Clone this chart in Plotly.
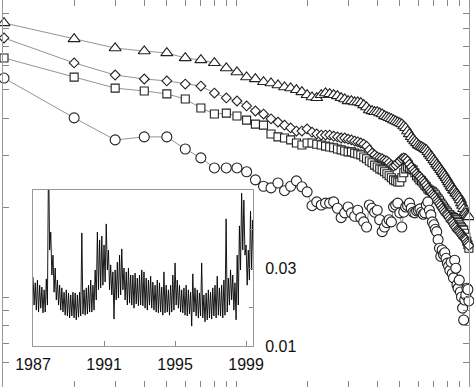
import plotly.graph_objects as go

# ---- main panel data (lag 1..100, log-log) ----
lags = list(range(1, 101))

tri_vals = [0.837,0.739,0.689,0.673,0.663,0.638,0.628,0.614,0.590,0.572,
0.550,0.542,0.530,0.525,0.517,0.509,0.505,0.498,0.490,0.479,
0.471,0.468,0.479,0.486,0.483,0.479,0.475,0.468,0.464,0.457,
0.457,0.453,0.453,0.450,0.443,0.436,0.426,0.423,0.420,0.420,
0.416,0.413,0.407,0.404,0.401,0.398,0.394,0.391,0.388,0.385,
0.382,0.376,0.371,0.362,0.354,0.346,0.340,0.335,0.330,0.325,
0.322,0.320,0.318,0.315,0.313,0.308,0.303,0.298,0.294,0.289,
0.285,0.280,0.276,0.272,0.268,0.264,0.260,0.256,0.252,0.248,
0.244,0.240,0.236,0.233,0.229,0.228,0.224,0.222,0.219,0.216,
0.212,0.207,0.203,0.198,0.193,0.192,0.189,0.187,0.186,0.185]

dia_vals = [0.745,0.614,0.559,0.542,0.534,0.521,0.513,0.486,0.468,0.457,
0.440,0.423,0.413,0.398,0.388,0.379,0.371,0.362,0.362,0.368,
0.359,0.354,0.351,0.351,0.351,0.348,0.346,0.343,0.343,0.340,
0.338,0.335,0.333,0.330,0.327,0.322,0.313,0.305,0.301,0.296,
0.294,0.292,0.289,0.287,0.283,0.278,0.276,0.278,0.283,0.287,
0.292,0.294,0.292,0.287,0.280,0.274,0.268,0.264,0.260,0.256,
0.254,0.250,0.246,0.242,0.238,0.233,0.229,0.226,0.222,0.219,
0.216,0.212,0.209,0.206,0.203,0.199,0.196,0.193,0.190,0.189,
0.186,0.183,0.180,0.179,0.176,0.173,0.171,0.168,0.167,0.166,
0.164,0.162,0.160,0.158,0.157,0.156,0.153,0.151,0.149,0.148]

sq_vals = [0.638,0.550,0.505,0.494,0.483,0.464,0.433,0.413,0.416,0.407,
0.394,0.382,0.379,0.354,0.346,0.343,0.338,0.330,0.325,0.330,
0.330,0.327,0.325,0.322,0.320,0.318,0.315,0.313,0.310,0.308,
0.308,0.305,0.303,0.301,0.296,0.292,0.287,0.283,0.278,0.274,
0.270,0.268,0.264,0.260,0.256,0.252,0.248,0.246,0.244,0.244,
0.252,0.262,0.270,0.274,0.272,0.270,0.268,0.262,0.256,0.252,
0.248,0.246,0.242,0.238,0.235,0.231,0.229,0.228,0.226,0.224,
0.221,0.217,0.214,0.211,0.207,0.204,0.201,0.198,0.195,0.193,
0.190,0.189,0.187,0.186,0.185,0.183,0.182,0.180,0.178,0.175,
0.173,0.171,0.169,0.168,0.164,0.159,0.154,0.150,0.146,0.144]

circ_vals = [0.546,0.401,0.338,0.346,0.346,0.315,0.294,0.272,0.272,0.272,
0.264,0.248,0.236,0.233,0.242,0.228,0.236,0.246,0.235,0.226,
0.203,0.209,0.204,0.207,0.207,0.209,0.199,0.185,0.192,0.201,
0.192,0.187,0.196,0.185,0.179,0.172,0.204,0.199,0.193,0.196,
0.182,0.166,0.172,0.178,0.182,0.179,0.201,0.204,0.207,0.192,
0.172,0.193,0.201,0.203,0.207,0.199,0.193,0.192,0.195,0.196,
0.198,0.193,0.190,0.192,0.204,0.209,0.196,0.189,0.179,0.175,
0.169,0.166,0.156,0.146,0.137,0.144,0.139,0.141,0.135,0.130,
0.127,0.123,0.131,0.120,0.116,0.133,0.125,0.110,0.107,0.114,
0.104,0.100,0.0918,0.0837,0.0977,0.1016,0.107,0.106,0.0970,0.0977]

# ---- inset data: volatility 1987-1999, high/low per 1/8-year bin ----
bin_start = 1987.0
bin_width = 0.125
vol_hi = [0.0277,0.0262,0.0269,0.0256,0.0251,0.0244,0.0272,0.0600,0.0392,0.0333,
0.0300,0.0269,0.0256,0.0249,0.0238,0.0244,0.0236,0.0231,0.0238,0.0236,
0.0231,0.0238,0.0390,0.0244,0.0249,0.0256,0.0269,0.0256,0.0295,0.0392,
0.0372,0.0382,0.0359,0.0413,0.0346,0.0308,0.0290,0.0295,0.0315,0.0333,
0.0349,0.0300,0.0290,0.0300,0.0282,0.0282,0.0287,0.0274,0.0282,0.0295,
0.0290,0.0274,0.0269,0.0279,0.0264,0.0256,0.0269,0.0262,0.0251,0.0290,
0.0256,0.0244,0.0256,0.0282,0.0313,0.0269,0.0256,0.0244,0.0249,0.0256,
0.0244,0.0238,0.0285,0.0249,0.0244,0.0236,0.0313,0.0231,0.0236,0.0244,
0.0238,0.0249,0.0256,0.0279,0.0249,0.0256,0.0269,0.0426,0.0274,0.0295,
0.0282,0.0262,0.0333,0.0408,0.0492,0.0474,0.0359,0.0346,0.0446,0.0423]
vol_lo = [0.0205,0.0192,0.0187,0.0197,0.0185,0.0187,0.0205,0.0346,0.0282,0.0238,
0.0218,0.0205,0.0192,0.0187,0.0179,0.0177,0.0172,0.0177,0.0172,0.0167,
0.0174,0.0177,0.0182,0.0179,0.0182,0.0187,0.0187,0.0192,0.0218,0.0244,
0.0249,0.0256,0.0264,0.0295,0.0244,0.0231,0.0169,0.0218,0.0223,0.0231,
0.0244,0.0218,0.0205,0.0210,0.0205,0.0197,0.0208,0.0203,0.0205,0.0203,
0.0197,0.0192,0.0205,0.0197,0.0192,0.0187,0.0185,0.0187,0.0179,0.0185,
0.0187,0.0179,0.0187,0.0192,0.0205,0.0197,0.0187,0.0185,0.0179,0.0177,
0.0182,0.0151,0.0187,0.0177,0.0172,0.0177,0.0172,0.0162,0.0167,0.0172,
0.0169,0.0177,0.0172,0.0179,0.0177,0.0172,0.0179,0.0187,0.0205,0.0218,
0.0192,0.0167,0.0205,0.0295,0.0346,0.0333,0.0256,0.0269,0.0295,0.0308]
year_ticks = [1987, 1991, 1995, 1999]
inset_y_ticks = [0.01, 0.02, 0.03, 0.04]
inset_y_labels = ["0.01", "", "0.03", ""]

# build zig-zag table from the bins
inset_t, inset_v = [], []
for i, (h, l) in enumerate(zip(vol_hi, vol_lo)):
    t0 = bin_start + i * bin_width
    inset_t += [t0, t0 + bin_width / 2]
    inset_v += [h, l]

fig = go.Figure()

series = [
    (sq_vals, "square", 8),
    (dia_vals, "diamond", 7.5),
    (circ_vals, "circle", 10),
    (tri_vals, "triangle-up", 10.5),
]
for vals, sym, size in series:
    fig.add_trace(go.Scatter(
        x=lags, y=vals, mode="lines+markers", cliponaxis=False,
        line=dict(color="#777777", width=0.8),
        marker=dict(symbol=sym, size=size, color="white",
                    line=dict(color="#222222", width=1.1)),
        xaxis="x", yaxis="y", showlegend=False))

fig.add_trace(go.Scatter(
    x=inset_t, y=inset_v, mode="lines",
    line=dict(color="#000000", width=0.9),
    xaxis="x2", yaxis="y2", showlegend=False))

W, H = 474, 387
ml, mr = 3, 5
pw = W - ml - mr

fig.update_layout(
    width=W, height=H,
    margin=dict(l=ml, r=mr, t=0, b=0, autoexpand=False),
    paper_bgcolor="white", plot_bgcolor="white",
    font=dict(family="Liberation Sans, Arial, sans-serif", size=16, color="#111111"),
    xaxis=dict(type="log", range=[-0.0043, 1.996], showticklabels=False,
               ticks="inside", ticklen=6, tickcolor="#888888", dtick="D1",
               showline=False, mirror="ticks", showgrid=False, zeroline=False,
               automargin=False),
    yaxis=dict(type="log", range=[-1.303, 0.0], showticklabels=False,
               ticks="inside", ticklen=6, tickcolor="#888888", dtick="D1",
               showline=True, linecolor="#999999", linewidth=1, mirror="ticks",
               showgrid=False, zeroline=False, automargin=False),
    xaxis2=dict(domain=[(33 - ml) / pw, (253 - ml) / pw], anchor="y2",
                range=[1987, 1999.39], tickvals=year_ticks,
                ticktext=[str(y) for y in year_ticks],
                ticks="inside", ticklen=5, tickcolor="#888888",
                showline=True, linecolor="#999999", linewidth=1, mirror=True,
                showgrid=False, zeroline=False, ticklabelstandoff=4,
                tickfont=dict(size=16), automargin=False),
    yaxis2=dict(domain=[(H - 346) / H, (H - 190) / H], anchor="x2", side="right",
                range=[0.01, 0.05], tickvals=inset_y_ticks, ticktext=inset_y_labels,
                ticks="inside", ticklen=4, tickcolor="#888888",
                showline=True, linecolor="#999999", linewidth=1, mirror=True,
                showgrid=False, zeroline=False, ticklabelstandoff=8,
                tickfont=dict(size=16), automargin=False),
)

fig.write_html("out.html", config={"displayModeBar": False},
               post_script="document.body.style.margin='0';document.body.style.padding='0';")
